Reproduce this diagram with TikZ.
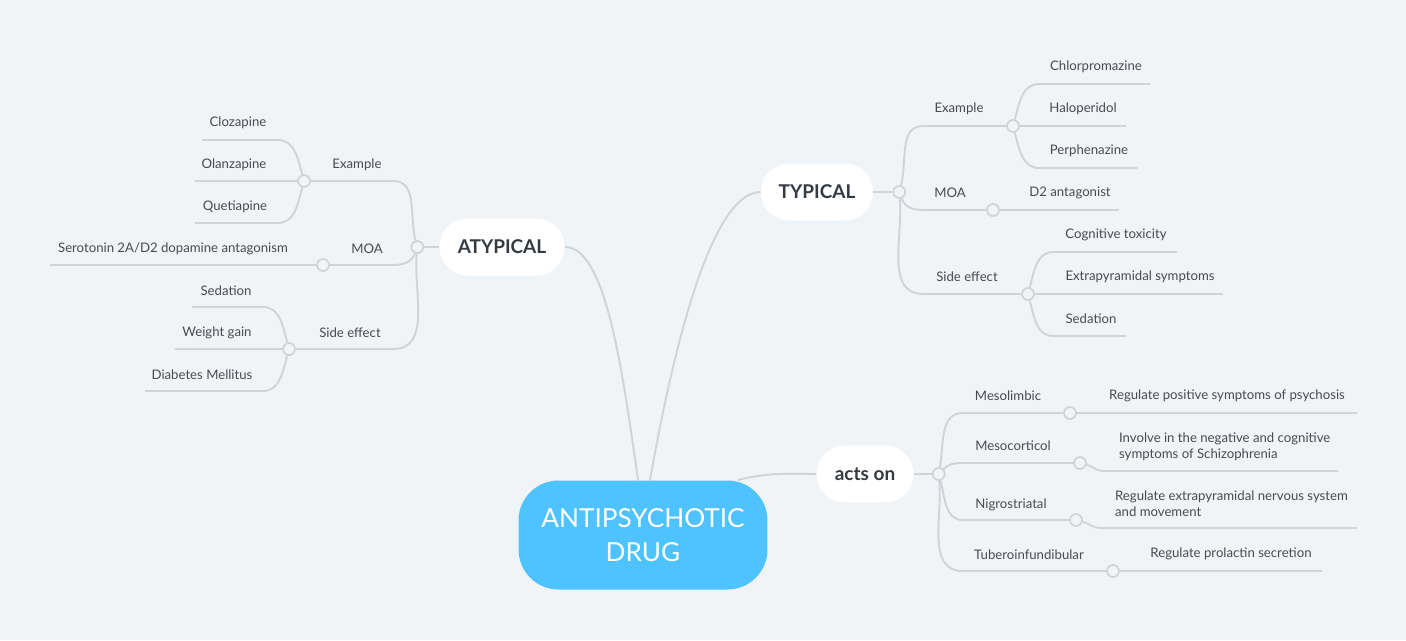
\documentclass[tikz,border=0pt]{standalone}
\usepackage{fontspec}
\setmainfont{Lato}
\usetikzlibrary{positioning,calc}

\definecolor{bgc}{RGB}{240,244,247}
\definecolor{linec}{RGB}{208,212,216}
\definecolor{txtc}{RGB}{72,76,82}
\definecolor{topc}{RGB}{52,58,64}
\definecolor{rootc}{RGB}{79,195,255}

\begin{document}
\begin{tikzpicture}[x=0.02cm,y=0.02cm,
	link/.style={draw=linec,line width=1.1pt},
	hub/.style={circle,draw=linec,fill=bgc,line width=1pt,minimum size=0.24cm,inner sep=0pt},
	lbl/.style={text=txtc,font=\fontsize{7.5}{9.2}\selectfont,inner sep=1pt,yshift=-0.035cm},
	topic/.style={fill=white,rounded corners=0.56cm,minimum height=1.14cm,text=topc,font=\fontsize{10.8}{12}\selectfont\bfseries}]
	\fill[bgc] (0,0) rectangle (1406,-640);
	\useasboundingbox (0,0) rectangle (1406,-640);
	
	% central topic and main branches
	\node[fill=rootc,rounded corners=0.8cm,minimum width=4.98cm,minimum height=2.18cm,align=center,text=white,font=\fontsize{14.9}{19.3}\selectfont] (root) at (643,-535) {ANTIPSYCHOTIC\\DRUG};
	\node[topic,minimum width=2.5cm]  (atyp) at (502,-247) {ATYPICAL};
	\node[topic,minimum width=2.24cm] (typ)  at (817,-192) {TYPICAL};
	\node[topic,minimum width=1.94cm] (acts) at (865,-474) {acts on};
	\draw[link] (atyp.east) to[out=0,in=98,out distance=0.8cm,in distance=2.4cm] ([xshift=-0.1cm]root.north);
	\draw[link] (typ.west) to[out=180,in=80,out distance=1cm,in distance=2.6cm] ([xshift=0.14cm]root.north);
	\draw[link] (root.30) to[out=15,in=180] (acts.west);
	
	\node[hub] (hA) [left=0.3cm of atyp]   {};
	\node[hub] (hT) [right=0.38cm of typ]  {};
	\node[hub] (hO) [right=0.36cm of acts] {};
	\node[hub] (hAE) at (304,-181) {};
	\node[hub] (hAM) at (323,-265) {};
	\node[hub] (hAS) at (289,-349) {};
	\node[hub] (hTE) at (1013,-126) {};
	\node[hub] (hTM) at (993,-210) {};
	\node[hub] (hTS) at (1028,-294) {};
	\node[hub] (hO1) at (1070,-413) {};
	\node[hub] (hO2) at (1080,-463) {};
	\node[hub] (hO3) at (1076,-520) {};
	\node[hub] (hO4) at (1113,-571) {};
	
	% ATYPICAL
	\draw[link] (atyp) -- (hA);
	\draw[link] (hA) to[out=105,in=0] ($(hA |- hAE)+(-24,0)$) -- (hAE);
	\draw[link] (hA) to[out=-110,in=0] ($(hA |- hAM)+(-24,0)$) -- (hAM);
	\draw[link] (hA) to[out=-95,in=0] ($(hA |- hAS)+(-24,0)$) -- (hAS);
	\node[lbl] (aEx)   at (357,-163) {Example};
	\node[lbl] (aMoa)  at (367,-247) {MOA};
	\node[lbl] (aSide) at (350,-331) {Side effect};
	
	\coordinate (clozE)   at (202,-140);
	\coordinate (olanE)   at (195,-181);
	\coordinate (quetE)   at (195,-223);
	\coordinate (seroE)   at (50,-265);
	\coordinate (sedAE)   at (192,-307);
	\coordinate (weightE) at (175,-349);
	\coordinate (diabE)   at (145,-391);
	\draw[link] (hAE) to[out=105,in=0] ($(hAE |- clozE)+(-26,0)$) -- (clozE);
	\draw[link] (hAE) -- (olanE);
	\draw[link] (hAE) to[out=-105,in=0] ($(hAE |- quetE)+(-26,0)$) -- (quetE);
	\draw[link] (hAM) -- (seroE);
	\draw[link] (hAS) to[out=105,in=0] ($(hAS |- sedAE)+(-26,0)$) -- (sedAE);
	\draw[link] (hAS) -- (weightE);
	\draw[link] (hAS) to[out=-105,in=0] ($(hAS |- diabE)+(-26,0)$) -- (diabE);
	\node[lbl] (cloz)   at (238,-121) {Clozapine};
	\node[lbl] (olan)   at (234,-163) {Olanzapine};
	\node[lbl] (quet)   at (235,-205) {Quetiapine};
	\node[lbl] (sero)   at (173,-247) {Serotonin 2A/D2 dopamine antagonism};
	\node[lbl] (sedA)   at (226,-289) {Sedation};
	\node[lbl] (weight) at (217,-331) {Weight gain};
	\node[lbl] (diab)   at (202,-373) {Diabetes Mellitus};
	
	% TYPICAL
	\draw[link] (typ) -- (hT);
	\draw[link] (hT) to[out=75,in=180] ($(hT |- hTE)+(24,0)$) -- (hTE);
	\draw[link] (hT) to[out=-70,in=180] ($(hT |- hTM)+(24,0)$) -- (hTM);
	\draw[link] (hT) to[out=-85,in=180] ($(hT |- hTS)+(24,0)$) -- (hTS);
	\node[lbl] (tEx)   at (959,-107) {Example};
	\node[lbl] (tMoa)  at (950,-191) {MOA};
	\node[lbl] (tSide) at (967,-275) {Side effect};
	
	\coordinate (chlorE) at (1150,-84);
	\coordinate (haloE)  at (1126,-126);
	\coordinate (perphE) at (1137,-168);
	\coordinate (d2E)    at (1119,-210);
	\coordinate (cogE)   at (1177,-252);
	\coordinate (extraE) at (1223,-294);
	\coordinate (sedTE)  at (1126,-336);
	\draw[link] (hTE) to[out=75,in=180] ($(hTE |- chlorE)+(26,0)$) -- (chlorE);
	\draw[link] (hTE) -- (haloE);
	\draw[link] (hTE) to[out=-75,in=180] ($(hTE |- perphE)+(26,0)$) -- (perphE);
	\draw[link] (hTM) -- (d2E);
	\draw[link] (hTS) to[out=75,in=180] ($(hTS |- cogE)+(25,0)$) -- (cogE);
	\draw[link] (hTS) -- (extraE);
	\draw[link] (hTS) to[out=-75,in=180] ($(hTS |- sedTE)+(25,0)$) -- (sedTE);
	\node[lbl] (chlor) at (1096,-65)  {Chlorpromazine};
	\node[lbl] (halo)  at (1083,-107) {Haloperidol};
	\node[lbl] (perph) at (1089,-149) {Perphenazine};
	\node[lbl] (d2)    at (1070,-191) {D2 antagonist};
	\node[lbl] (cog)   at (1116,-233) {Cognitive toxicity};
	\node[lbl] (extra) at (1140,-275) {Extrapyramidal symptoms};
	\node[lbl] (sedT)  at (1091,-317) {Sedation};
	
	% acts on
	\draw[link] (acts) -- (hO);
	\draw[link] (hO) to[out=80,in=180] ($(hO |- hO1)+(24,0)$) -- (hO1);
	\draw[link] (hO) to[out=45,in=180] ($(hO |- hO2)+(24,0)$) -- (hO2);
	\draw[link] (hO) to[out=-75,in=180] ($(hO |- hO3)+(24,0)$) -- (hO3);
	\draw[link] (hO) to[out=-85,in=180] ($(hO |- hO4)+(24,0)$) -- (hO4);
	\node[lbl] (meso)   at (1008,-394) {Mesolimbic};
	\node[lbl] (cort)   at (1013,-444) {Mesocorticol};
	\node[lbl] (nigro)  at (1011,-503) {Nigrostriatal};
	\node[lbl] (tubero) at (1029,-553) {Tuberoinfundibular};
	
	\coordinate (mesoE)   at (1357,-413);
	\coordinate (cortE)   at (1338,-471);
	\coordinate (nigroE)  at (1357,-528);
	\coordinate (tuberoE) at (1322,-571);
	\draw[link] (hO1) -- (mesoE);
	\draw[link] (hO2) to[out=-15,in=180] ($(hO2)+(23,-8)$) -- (cortE);
	\draw[link] (hO3) to[out=-15,in=180] ($(hO3)+(24,-8)$) -- (nigroE);
	\draw[link] (hO4) -- (tuberoE);
	\node[lbl] (regPos) at (1227,-394) {Regulate positive symptoms of psychosis};
	\node[lbl,anchor=west,align=left] (involve) at (1117,-445) {Involve in the negative and cognitive\\symptoms of Schizophrenia};
	\node[lbl,anchor=west,align=left] (regExt) at (1113,-502) {Regulate extrapyramidal nervous system\\and movement};
	\node[lbl] (regPro) at (1231,-552) {Regulate prolactin secretion};
\end{tikzpicture}
\end{document}
